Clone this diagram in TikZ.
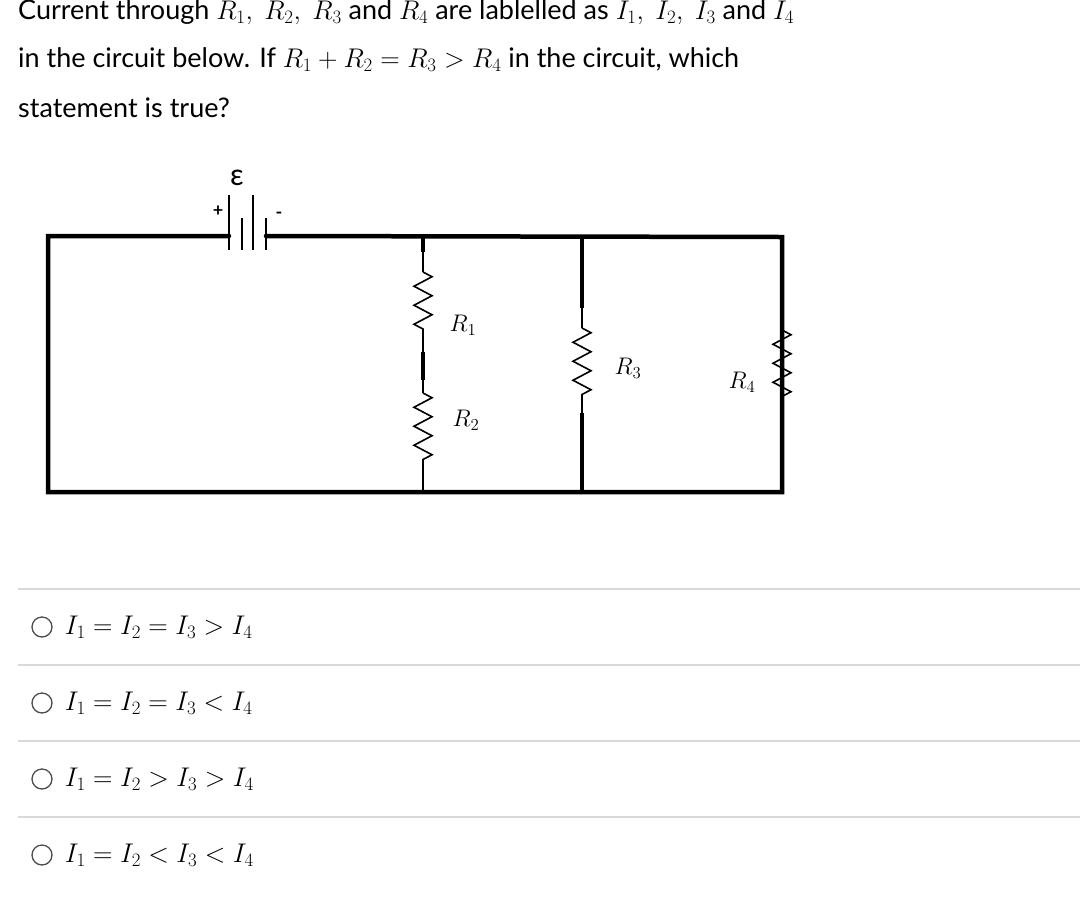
\documentclass[tikz,border=0pt]{standalone}
\usepackage{fix-cm}
\usepackage{fontspec}
\setmainfont{Lato}
\usetikzlibrary{decorations.pathmorphing, positioning}

\begin{document}
\begin{tikzpicture}[x=1pt, y=-1pt,
    wire/.style={line width=4.5pt, line cap=round},
    lead/.style={line width=1.6pt},
    res/.style={line width=1.6pt, decorate, decoration={zigzag, segment length=19pt, amplitude=9pt}},
    plate/.style={line width=1.6pt},
    sep/.style={draw=black!15, line width=1.2pt},
    txt/.style={anchor=west, inner sep=0pt, font=\fontsize{27}{32}\selectfont},
    lbl/.style={inner sep=0pt, font=\fontsize{24}{26}\selectfont},
    opt/.style={circle, draw=black!70, line width=1.3pt, minimum size=20pt, inner sep=0pt}]
  \useasboundingbox (0,0) rectangle (1080,898);

  % question
  \node[txt] (q1) at (18,12) {Current through $R_1,\ R_2,\ R_3$ and $R_4$ are lablelled as $I_1,\ I_2,\ I_3$ and $I_4$};
  \node[txt] (q2) at (18,60) {in the circuit below. If $R_1+R_2=R_3>R_4$ in the circuit, which};
  \node[txt] (q3) at (18,108) {statement is true?};

  % corners and junctions
  \coordinate (tl) at (48,236);
  \coordinate (bl) at (48,492);
  \coordinate (tr) at (782,237);
  \coordinate (br) at (782,492);
  \coordinate (ta) at (423,237);
  \coordinate (ba) at (423,492);
  \coordinate (tb) at (582,237);
  \coordinate (bb) at (582,492);

  % battery
  \coordinate (bp) at (229,236);
  \coordinate (bn) at (266,236);
  \draw[plate] (229,195) -- (229,250);
  \draw[plate] (242,218) -- (242,250);
  \draw[plate] (253,195) -- (253,250);
  \draw[plate] (266,218) -- (266,250);
  \node[inner sep=0pt, font=\fontsize{30}{30}\selectfont] (eps) at (237,178) {ε};
  \node[inner sep=0pt, font=\fontsize{18}{18}\selectfont\bfseries] (plus) at (218,211) {+};
  \node[inner sep=0pt, font=\fontsize{18}{18}\selectfont\bfseries] (minus) at (279,215) {-};

  % outer loop
  \draw[wire] (bp) -- (tl) -- (bl) -- (br) -- (tr) -- (bn);

  % branch R1, R2
  \draw[wire, line cap=butt] (ta) -- (423,252);
  \draw[lead] (423,252) -- (423,272);
  \draw[res] (423,272) -- (423,337);
  \draw[lead] (423,337) -- (423,352);
  \draw[wire, line cap=butt] (423,352) -- (423,380);
  \draw[lead] (423,380) -- (423,393);
  \draw[res] (423,393) -- (423,460);
  \draw[lead] (423,460) -- (ba);

  % branch R3
  \draw[wire, line cap=butt] (tb) -- (582,308);
  \draw[lead] (582,308) -- (582,328);
  \draw[res] (582,328) -- (582,397);
  \draw[lead] (582,397) -- (582,413);
  \draw[wire, line cap=butt] (582,413) -- (bb);

  % branch R4
  \draw[wire, line cap=butt] (tr) -- (782,310);
  \draw[lead] (782,310) -- (782,330);
  \draw[res] (782,330) -- (782,400);
  \draw[lead] (782,400) -- (782,420);
  \draw[wire, line cap=butt] (782,420) -- (br);

  \node[lbl] (r1) at (463,325) {$R_1$};
  \node[lbl] (r2) at (466,420) {$R_2$};
  \node[lbl] (r3) at (628,368) {$R_3$};
  \node[lbl] (r4) at (742,382) {$R_4$};

  % answers
  \foreach \y in {589,665,741,817}
    \draw[sep] (18,\y) -- (1080,\y);
  \node[opt] (o1) at (42,627) {};
  \node[opt] (o2) at (42,703) {};
  \node[opt] (o3) at (42,779) {};
  \node[opt] (o4) at (42,855) {};
  \node[txt, right=12pt of o1] (a1) {$I_1=I_2=I_3>I_4$};
  \node[txt, right=12pt of o2] (a2) {$I_1=I_2=I_3<I_4$};
  \node[txt, right=12pt of o3] (a3) {$I_1=I_2>I_3>I_4$};
  \node[txt, right=12pt of o4] (a4) {$I_1=I_2<I_3<I_4$};
\end{tikzpicture}
\end{document}
